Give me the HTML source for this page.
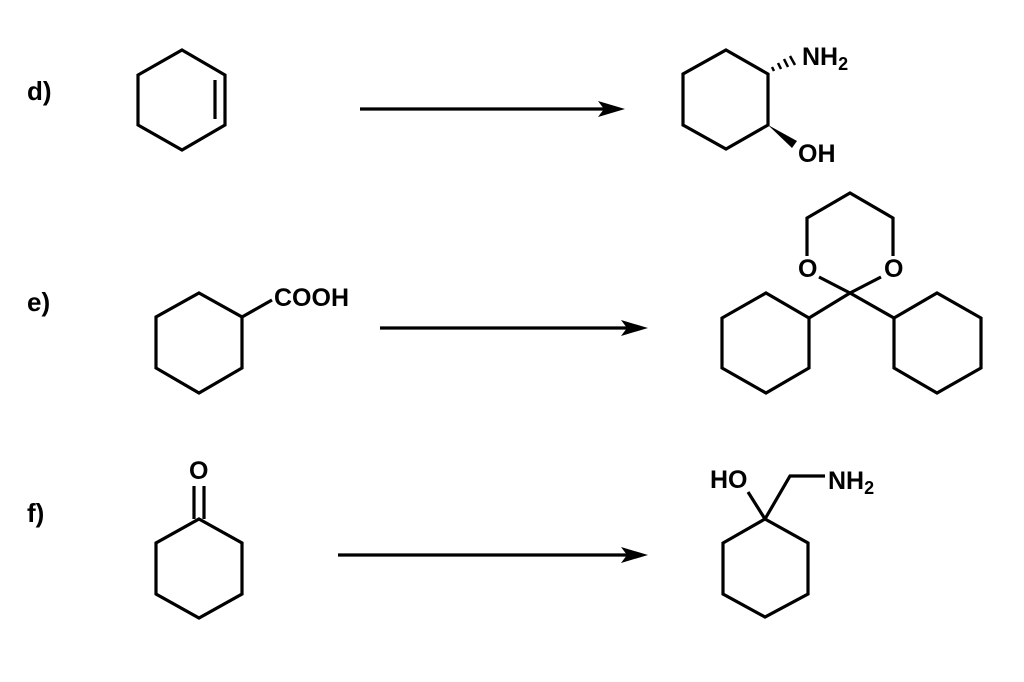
<!DOCTYPE html>
<html><head><meta charset="utf-8"><style>
html,body{margin:0;padding:0;background:#fff;}
svg text{font-family:"Liberation Sans",Arial,sans-serif;font-weight:bold;fill:#000;}
</style></head><body>
<svg width="1024" height="677" viewBox="0 0 1024 677" xmlns="http://www.w3.org/2000/svg">
<g fill="none" stroke="#000" stroke-width="3.2" stroke-linejoin="miter">
<polygon points="182,50 225,75 225,125 182,150 138,125 138,75"/>
<line x1="215" y1="80" x2="215" y2="119"/>
<polygon points="726,50 768,74 768,125 726,149 683,125 683,74"/>
<polygon points="199,293 242,317 242,368 199,393 156,368 156,317"/>
<line x1="242" y1="317" x2="272" y2="300"/>
<polyline points="807,256 807,218 850,193 893,218 893,256"/>
<line x1="819" y1="277" x2="850" y2="293"/>
<line x1="881" y1="277" x2="850" y2="293"/>
<line x1="850" y1="293" x2="809" y2="318"/>
<line x1="850" y1="293" x2="894" y2="318"/>
<polygon points="809,318 766,293 722,318 722,368 766,393 809,368"/>
<polygon points="894,318 937,293 981,318 981,368 937,393 894,368"/>
<polygon points="199,519 242,543 242,594 199,618 156,594 156,543"/>
<line x1="194" y1="519" x2="194" y2="486"/>
<line x1="204" y1="519" x2="204" y2="486"/>
<polygon points="765,519 808,543 808,594 765,617 723,594 723,543"/>
<line x1="765" y1="519" x2="748" y2="492"/>
<polyline points="765,519 790,476 825,476"/>
<line x1="360" y1="109" x2="610" y2="109"/>
<line x1="380" y1="328" x2="633" y2="328"/>
<line x1="338" y1="555" x2="633" y2="555"/>
</g>
<g fill="#000">
<polygon points="625,109 598,101 604,109 598,117"/>
<polygon points="648,328 621,320 627,328 621,336"/>
<polygon points="648,555 621,547 627,555 621,563"/>
<polygon points="768,125 797,141 792,148"/>
</g>
<g stroke="#000" stroke-width="2.5">
<line x1="774" y1="71" x2="772" y2="67"/>
<line x1="781" y1="69" x2="778" y2="63"/>
<line x1="788" y1="67" x2="784" y2="59"/>
<line x1="795" y1="65" x2="790" y2="56"/>
</g>
<text x="27" y="100" font-size="26">d)</text>
<text x="27" y="311" font-size="26">e)</text>
<text x="27" y="522" font-size="26">f)</text>
<text x="802" y="65" font-size="25">NH<tspan font-size="18" dy="5">2</tspan></text>
<text x="798" y="162" font-size="25">OH</text>
<text x="274" y="306" font-size="25">COOH</text>
<text x="798" y="277" font-size="25">O</text>
<text x="884" y="277" font-size="25">O</text>
<text x="189" y="479" font-size="25">O</text>
<text x="710" y="488" font-size="25">HO</text>
<text x="828" y="489" font-size="25">NH<tspan font-size="18" dy="5">2</tspan></text>
</svg>
</body></html>
